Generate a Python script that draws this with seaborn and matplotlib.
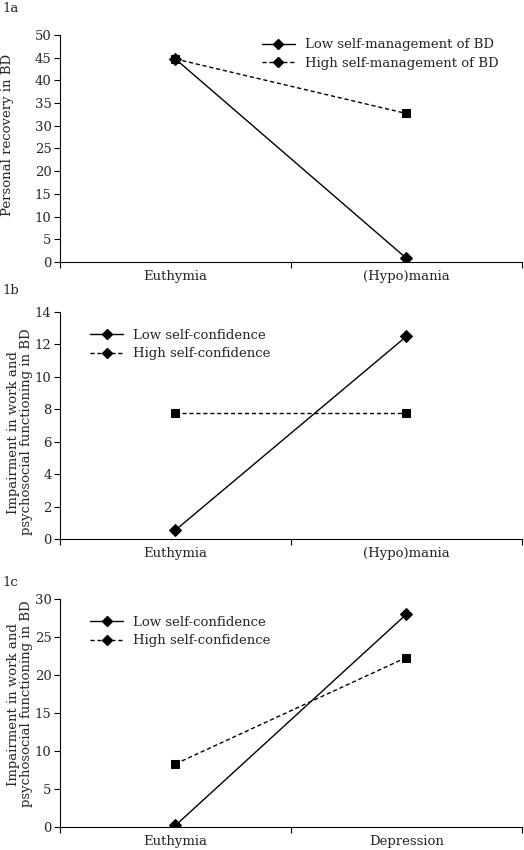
import matplotlib
matplotlib.use("Agg")
import matplotlib.pyplot as plt
from matplotlib.lines import Line2D
import seaborn as sns
import pandas as pd

sns.set_theme(style="white")
plt.rcParams['font.family'] = ['DejaVu Serif']

# ---- data ----
cats_a = ["Euthymia", "(Hypo)mania"]
low_a = [44.7, 0.8]
high_a = [44.7, 32.7]
legend_a = ["Low self-management of BD", "High self-management of BD"]

cats_b = ["Euthymia", "(Hypo)mania"]
low_b = [0.55, 12.5]
high_b = [7.8, 7.8]
legend_b = ["Low self-confidence", "High self-confidence"]

cats_c = ["Euthymia", "Depression"]
low_c = [0.2, 28.0]
high_c = [8.3, 22.3]
legend_c = ["Low self-confidence", "High self-confidence"]

ylabel_a = "Personal recovery in BD"
ylabel_bc = "Impairment in work and\npsychosocial functioning in BD"
panels = ["1a", "1b", "1c"]
yticks_a = list(range(0, 51, 5))
yticks_b = list(range(0, 15, 2))
yticks_c = list(range(0, 31, 5))

fig = plt.figure(figsize=(5.24, 8.5), dpi=100)
FS = 9.5

def draw(rect, cats, low, high, labels, ylabel, yticks, leg_anchor, panel, panel_y, lab_xy):
    ax = fig.add_axes(rect)
    pos = [i + 0.5 for i in range(len(cats))]
    df = pd.DataFrame({"x": pos * 2, "y": low + high,
                       "series": [labels[0]] * len(cats) + [labels[1]] * len(cats)})
    sns.lineplot(data=df[df.series == labels[0]], x="x", y="y", ax=ax, color="black",
                 lw=1.0, marker="D", markersize=6.5, markeredgecolor="black",
                 linestyle="-", legend=False)
    sns.lineplot(data=df[df.series == labels[1]], x="x", y="y", ax=ax, color="black",
                 lw=1.0, marker="s", markersize=5.5, markeredgecolor="black",
                 linestyle=(0, (3, 2)), legend=False)
    ax.set_xlim(0, len(cats))
    ax.set_ylim(yticks[0], yticks[-1])
    ax.set_yticks(yticks)
    ax.set_xticks(range(len(cats) + 1))
    ax.set_xticklabels([])
    ax.set_xticks(pos, minor=True)
    ax.set_xticklabels(cats, minor=True, fontsize=FS)
    ax.tick_params(axis="x", which="minor", length=0, pad=6)
    ax.tick_params(axis="x", which="major", length=4, width=0.8, color="black", direction="out", bottom=True)
    ax.tick_params(axis="y", length=4, width=0.8, color="black", direction="out", left=True, labelsize=FS, pad=2)
    for s in ["top", "right"]:
        ax.spines[s].set_visible(False)
    for s in ["left", "bottom"]:
        ax.spines[s].set_color("black")
        ax.spines[s].set_linewidth(0.8)
    ax.set_xlabel("")
    ax.set_ylabel(ylabel, fontsize=FS, linespacing=1.0)
    ax.yaxis.set_label_coords(*lab_xy)
    handles = [Line2D([0], [0], color="black", lw=1.0, marker="D", markersize=5.5, linestyle="-"),
               Line2D([0], [0], color="black", lw=1.0, marker="D", markersize=5.5, linestyle=(0, (3, 2)))]
    ax.legend(handles, labels, loc="upper left", bbox_to_anchor=leg_anchor, frameon=False,
              fontsize=FS, handlelength=2.5, handletextpad=0.75, labelspacing=0.4,
              borderpad=0, borderaxespad=0)
    fig.text(0.004, panel_y, panel, fontsize=FS, ha="left", va="center")
    return ax

ax1 = draw([0.1145, 0.6918, 0.8815, 0.2671], cats_a, low_a, high_a, legend_a, ylabel_a,
           yticks_a, (0.437, 0.985), panels[0], 1 - 8 / 850, (-0.1006, 0.559))
ax2 = draw([0.1145, 0.3659, 0.8815, 0.2670], cats_b, low_b, high_b, legend_b, ylabel_bc,
           yticks_b, (0.065, 0.925), panels[1], 1 - 290 / 850, (-0.058, 0.471))
ax3 = draw([0.1145, 0.0271, 0.8815, 0.2682], cats_c, low_c, high_c, legend_c, ylabel_bc,
           yticks_c, (0.065, 0.925), panels[2], 1 - 583 / 850, (-0.058, 0.539))

fig.savefig("out.png", dpi=100)
